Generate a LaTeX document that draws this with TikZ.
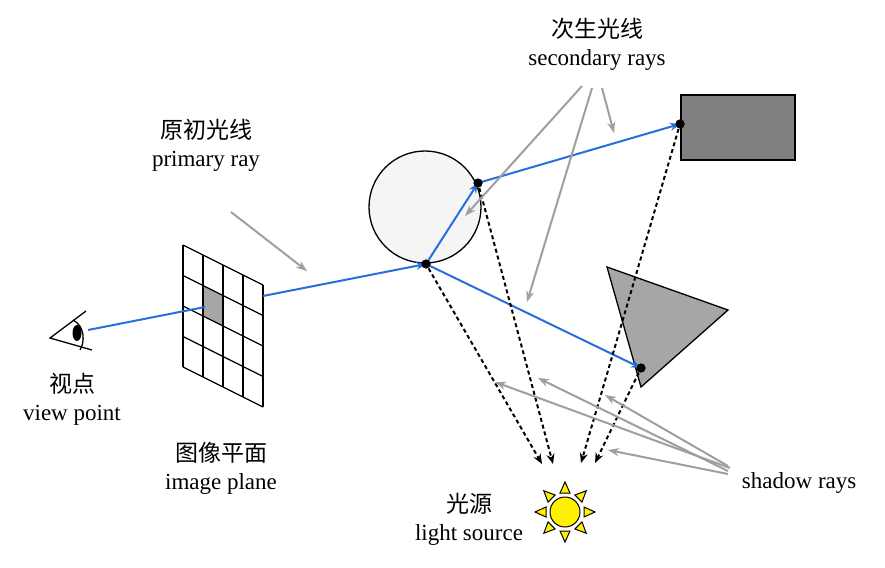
\documentclass[tikz,border=0pt]{standalone}
\usepackage{fontspec}
\setmainfont{Liberation Serif}
\newfontfamily\cjk{Noto Sans CJK SC}
\usetikzlibrary{arrows.meta}
\definecolor{rayblue}{RGB}{40,110,220}
\tikzset{
 blueray/.style={draw=rayblue,line width=2pt,-{Stealth[length=10pt,width=8pt]}},
 grayar/.style={draw=gray!75,line width=2pt,-{Stealth[length=11pt,width=8pt]}},
 shadow/.style={draw=black,line width=2pt,dash pattern=on 4pt off 3pt,-{Stealth[length=10pt,width=8pt]}},
 dot/.style={circle,fill=black,inner sep=0pt,minimum size=9pt},
 lbl/.style={align=center,font=\fontsize{23}{28}\selectfont}
}
\begin{document}
\begin{tikzpicture}[x=1pt,y=-1pt,line width=1.3pt]
\useasboundingbox (0,0) rectangle (885,567);
% grid
\fill[gray!70] (203,285.5) -- (223,295.5) -- (223,326) -- (203,316) -- cycle;
\foreach \i in {0,...,4}{
  \draw (183+20*\i,245+10*\i) -- (183+20*\i,367+10*\i);
  \draw (183,245+30.5*\i) -- (263,285+30.5*\i);
}
% eye
\draw (86,311) -- (50,338) -- (92,350);
\draw (73,320) .. controls (85,326) and (85,342) .. (80,350);
\fill (77,333) ellipse[x radius=4.5,y radius=8];
% objects
\node[draw,circle,fill=gray!8,minimum size=112pt,inner sep=0pt] (sph) at (425,207) {};
\node[draw,fill=black!50,minimum width=114pt,minimum height=65pt,inner sep=0pt] (box) at (738,127.5) {};
\draw[fill=black!35] (607,267) -- (728,310) -- (641,387) -- cycle;
% points
\coordinate (E) at (88,330);
\coordinate (P) at (205,307);
\coordinate (G) at (263,296);
\node[dot] (A) at (426,264) {};
\node[dot] (B) at (478,183) {};
\node[dot] (R) at (680,124) {};
\node[dot] (T) at (641,368) {};
\draw[rayblue,line width=2pt] (E) -- (P);
\draw[blueray] (G) -- (A.center);
\draw[blueray] (A.center) -- (B.center);
\draw[blueray] (B.center) -- (R.center);
\draw[blueray] (A.center) -- (T.center);
\node[dot] at (A) {};\node[dot] at (B) {};\node[dot] at (R) {};\node[dot] at (T) {};
% shadow rays
\coordinate (s1) at (542,464);\coordinate (s2) at (553,464);
\coordinate (s3) at (581,463);\coordinate (s4) at (595,463);
\draw[shadow] (A) -- (s1);
\draw[shadow] (B) -- (s2);
\draw[shadow] (R) -- (s3);
\draw[shadow] (T) -- (s4);
% sun
\begin{scope}[shift={(565,512)}]
\foreach \a in {0,45,...,315}{
 \draw[fill=yellow,rotate=\a,line width=1pt] (19,-5) -- (30,0) -- (19,5) -- cycle;}
\draw[fill=yellow,line width=1pt] (0,0) circle[radius=15];
\end{scope}
% labels
\node[lbl] (sec) at (597,44) {{\cjk 次生光线}\\secondary rays};
\node[lbl] (pri) at (206,145) {{\cjk 原初光线}\\primary ray};
\node[lbl] (vp) at (72,399) {{\cjk 视点}\\view point};
\node[lbl] (ip) at (221,468) {{\cjk 图像平面}\\image plane};
\node[lbl] (ls) at (469,519) {{\cjk 光源}\\light source};
\node[lbl,anchor=west] (sr) at (738,483) {shadow rays};
% gray arrows
\draw[grayar] (582,86) -- (465,216);
\draw[grayar] (592,88) -- (527,302);
\draw[grayar] (602,88) -- (614,133);
\draw[grayar] (231,212) -- (307,271);
\draw[grayar] (730,468) -- (495,382);
\draw[grayar] (728,471) -- (538,378);
\draw[grayar] (728,466) -- (605,395);
\draw[grayar] (728,474) -- (608,450);
\end{tikzpicture}
\end{document}
